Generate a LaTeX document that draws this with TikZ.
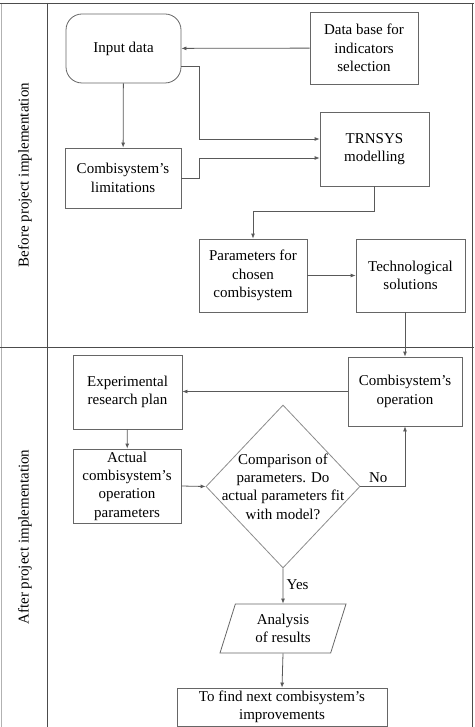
\documentclass[tikz,border=0pt]{standalone}
\usepackage{fontspec}
\setmainfont{Liberation Serif}
\usetikzlibrary{shapes.geometric,arrows.meta}

\begin{document}
\begin{tikzpicture}[x=1pt,y=-1pt,auto,
  font=\fontsize{15}{18.3}\selectfont,
  line width=0.8pt,
  box/.style={draw=black!60,rectangle,align=center,inner sep=2pt},
  rbox/.style={box,rounded corners=16pt},
  io/.style={draw=black!60,trapezium,trapezium left angle=62,trapezium right angle=118,
    trapezium stretches body,align=center,inner sep=0pt},
  test/.style={draw=black!45,diamond,inner sep=0pt},
  lane/.style={draw=black!70,line width=0.9pt},
  flow/.style={draw=black!65,-{Latex[length=5pt,width=4pt]}}]
			\useasboundingbox (0,0) rectangle (474,727);
			% lanes
			\draw[black!30] (1.5,3) -- (1.5,727);
			\draw[lane] (0,3) -- (474,3);
			\draw[lane] (0,347) -- (474,347);
			\draw[lane] (47,3) -- (47,727);
			\draw[lane] (472,3) -- (472,727);
			\node[rotate=90] (before) at (25,175) {Before project implementation};
			\node[rotate=90] (after) at (25,537) {After project implementation};

			\node[rbox,minimum width=115pt,minimum height=69pt] (inp) at (123.5,48.5) {Input data};
			\node[box,minimum width=108pt,minimum height=72pt] (db) at (364,48) {Data base for\\indicators\\selection};
			\node[box,minimum width=109pt,minimum height=74pt] (trn) at (374.5,149) {TRNSYS\\modelling};
			\node[box,minimum width=116pt,minimum height=60pt] (lim) at (123,178) {Combisystem's\\limitations};
			\node[box,minimum width=108pt,minimum height=73pt] (par) at (253,275.5) {Parameters for\\chosen\\combisystem};
			\node[box,minimum width=109pt,minimum height=73pt] (tec) at (410.5,275.5) {Technological\\solutions};
			\draw[flow] (db) to (inp);
			\draw[flow] ([yshift=-17.5pt]inp.east) -- ++(18,0) |- ([yshift=10pt]trn.west);
			\draw[flow] (lim.east) -- ++(18,0) |- ([yshift=-9pt]trn.west);
			\draw[flow] (inp) to (lim);
			\draw[flow] (trn.south) -- ++(0,25) -| (par.north);
			\draw[flow] (par) to (tec);

			\node[box,minimum width=114pt,minimum height=69pt] (op) at (405,391.5) {Combisystem's\\operation};
			\node[box,minimum width=109pt,minimum height=74pt] (exp) at (127.5,392) {Experimental\\research plan};
			\node[box,minimum width=108pt,minimum height=74pt] (act) at (127,486) {Actual\\combisystem's\\operation\\parameters};
			\node[test,minimum width=154pt,minimum height=163pt] (cmp) at (283,486.5) {};
			\node[align=center,inner sep=0pt] (cmptxt) at (cmp.center) {Comparison of\\parameters. Do\\actual parameters fit\\with model?};
			\node[io,minimum width=126pt,minimum height=49pt] (ana) at (283,628.5) {Analysis\\of results};
			\node[box,minimum width=210pt,minimum height=38pt,inner sep=0pt] (fin) at (282,707) {To find next combisystem's\\improvements};
			\draw[flow] (tec.south -| op.north) to (op.north);
			\draw[flow] (op.west) to (op.west -| exp.east);
			\draw[flow] (exp) to (act);
			\draw[flow] (act.east) to (cmp.west);
			\draw[flow] (cmp.east) -| node[pos=0.2,above] {No} (op.south);
			\draw[flow] (cmp.south) to node[pos=0.45] {Yes} (ana.north);
			\draw[flow] (ana.south) to (fin.north);
		\end{tikzpicture}
\end{document}
